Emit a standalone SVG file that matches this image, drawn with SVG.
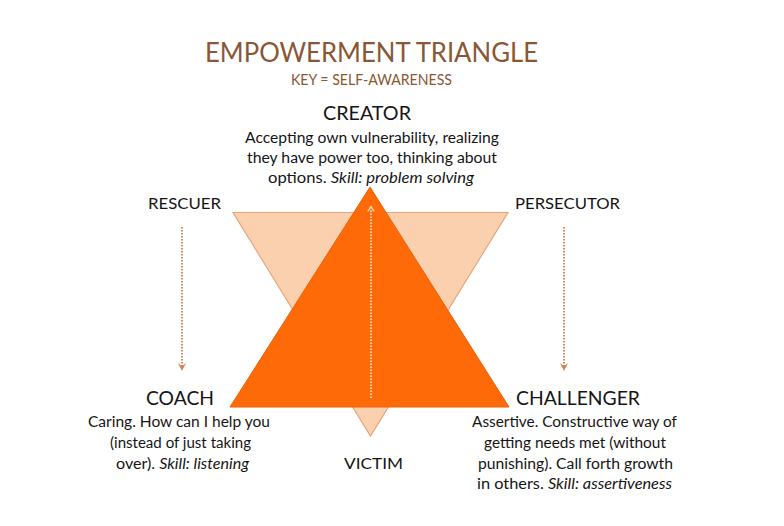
<svg xmlns="http://www.w3.org/2000/svg" width="784" height="526" viewBox="0 0 784 526">
<style>
text{font-family:Lato,"Open Sans","Liberation Sans",sans-serif;fill:#151515;text-anchor:middle}
.title{fill:#8a5634;font-size:26px}
.sub{fill:#8a5634;font-size:14.5px}
.role{font-size:20px}
.old{font-size:16px}
.body{font-size:15.5px}
.side{stroke:#c98a5e;stroke-width:2;stroke-dasharray:1.6 1.4;fill:none}
.mid{stroke:#fcd3b2;stroke-width:2;stroke-dasharray:1.6 1.4;fill:none}
</style>
<defs>
<marker id="ah" viewBox="0 0 10 10" refX="5" refY="5" markerWidth="5" markerHeight="5" orient="auto" markerUnits="strokeWidth">
<path d="M1,1 L5,4 L9,1 L5,9 Z" fill="#d9834a" transform="rotate(-90 5 5)"/>
</marker>
<marker id="ahm" viewBox="0 0 10 10" refX="5" refY="5" markerWidth="4" markerHeight="4" orient="auto" markerUnits="strokeWidth">
<path d="M2,1 L8,5 L2,9" fill="none" stroke="#fcd3b2" stroke-width="2"/>
</marker>
</defs>
<rect width="784" height="526" fill="#ffffff"/>
<g id="header">
<text class="title" x="371.5" y="62" textLength="333" lengthAdjust="spacingAndGlyphs">EMPOWERMENT TRIANGLE</text>
<text class="sub" x="371.5" y="85" textLength="161" lengthAdjust="spacingAndGlyphs">KEY = SELF-AWARENESS</text>
</g>
<g id="drama-triangle">
<polygon points="233,212.5 508,212.5 370.5,436" fill="#fbd0ae" stroke="#e6a57a" stroke-width="1.2"/>
</g>
<g id="empowerment-triangle">
<polygon points="370,187 509,407 230,407" fill="#fe6a08" stroke="#e8620a" stroke-width="1"/>
</g>
<g id="connectors">
<line class="side" x1="182" y1="227" x2="182" y2="367" marker-end="url(#ah)"/>
<line class="side" x1="564" y1="227" x2="564" y2="367" marker-end="url(#ah)"/>
<line class="mid" x1="371" y1="398" x2="371" y2="209" marker-end="url(#ahm)"/>
</g>
<g id="creator">
<text class="role" x="367" y="120" textLength="88" lengthAdjust="spacingAndGlyphs">CREATOR</text>
<text class="body" x="372" y="143" textLength="254" lengthAdjust="spacingAndGlyphs">Accepting own vulnerability, realizing</text>
<text class="body" x="372" y="163" textLength="250" lengthAdjust="spacingAndGlyphs">they have power too, thinking about</text>
<text class="body" x="371" y="183" textLength="206" lengthAdjust="spacingAndGlyphs">options. <tspan font-style="italic">Skill: problem solving</tspan></text>
</g>
<g id="rescuer">
<text class="old" x="184.5" y="209" textLength="73" lengthAdjust="spacingAndGlyphs">RESCUER</text>
</g>
<g id="persecutor">
<text class="old" x="567.5" y="209" textLength="105" lengthAdjust="spacingAndGlyphs">PERSECUTOR</text>
</g>
<g id="coach">
<text class="role" x="180" y="405" textLength="68" lengthAdjust="spacingAndGlyphs">COACH</text>
<text class="body" x="179" y="427" textLength="182" lengthAdjust="spacingAndGlyphs">Caring. How can I help you</text>
<text class="body" x="180.5" y="448" textLength="141" lengthAdjust="spacingAndGlyphs">(instead of just taking</text>
<text class="body" x="182.5" y="469" textLength="133" lengthAdjust="spacingAndGlyphs">over). <tspan font-style="italic">Skill: listening</tspan></text>
</g>
<g id="challenger">
<text class="role" x="578" y="405" textLength="124" lengthAdjust="spacingAndGlyphs">CHALLENGER</text>
<text class="body" x="574.5" y="427" textLength="205" lengthAdjust="spacingAndGlyphs">Assertive. Constructive way of</text>
<text class="body" x="575" y="448" textLength="182" lengthAdjust="spacingAndGlyphs">getting needs met (without</text>
<text class="body" x="575.5" y="469" textLength="195" lengthAdjust="spacingAndGlyphs">punishing). Call forth growth</text>
<text class="body" x="574.5" y="489" textLength="195" lengthAdjust="spacingAndGlyphs">in others. <tspan font-style="italic">Skill: assertiveness</tspan></text>
</g>
<g id="victim">
<text class="old" x="373.5" y="469" textLength="59" lengthAdjust="spacingAndGlyphs">VICTIM</text>
</g>
</svg>
